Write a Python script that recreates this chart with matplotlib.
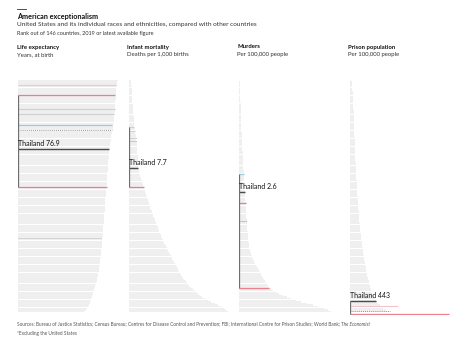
import matplotlib
matplotlib.use('Agg')
import matplotlib.pyplot as plt

plt.rcParams['font.family'] = ['Lato', 'DejaVu Sans']

# countries ranked, 146 each, best at the top
life_expectancy = [
    84.3, 83.9, 83.6, 83.4, 83.3, 83.2, 83.0, 82.9, 82.8, 82.7,
    82.6, 82.5, 82.4, 82.3, 82.2, 82.1, 82.0, 81.9, 81.8, 81.7,
    81.6, 81.5, 81.3, 81.2, 81.1, 81.0, 80.9, 80.7, 80.5, 80.3,
    80.1, 79.9, 79.6, 79.3, 79.0, 78.8, 78.6, 78.4, 78.2, 78.0,
    77.8, 77.6, 77.4, 77.2, 77.0, 76.9, 76.8, 76.7, 76.6, 76.5,
    76.4, 76.3, 76.2, 76.1, 76.0, 75.9, 75.8, 75.7, 75.6, 75.5,
    75.4, 75.3, 75.2, 75.1, 75.0, 74.9, 74.8, 74.7, 74.5, 74.4,
    74.3, 74.2, 74.1, 74.0, 73.9, 73.8, 73.7, 73.6, 73.5, 73.4,
    73.3, 73.2, 73.1, 73.0, 72.9, 72.8, 72.7, 72.6, 72.5, 72.4,
    72.3, 72.2, 72.1, 72.0, 71.9, 71.8, 71.7, 71.6, 71.5, 71.4,
    71.3, 71.2, 71.0, 70.9, 70.8, 70.7, 70.5, 70.4, 70.2, 70.1,
    70.0, 69.8, 69.7, 69.5, 69.4, 69.2, 69.0, 68.8, 68.6, 68.4,
    68.2, 67.9, 67.6, 67.3, 67.0, 66.7, 66.4, 66.0, 65.6, 65.2,
    64.8, 64.4, 64.0, 63.6, 63.2, 62.8, 62.4, 62.0, 61.6, 61.2,
    60.8, 60.2, 59.5, 58.6, 57.5, 55.5,
]
infant_mortality = [
    1.7, 1.8, 1.9, 2.0, 2.1, 2.1, 2.2, 2.3, 2.3, 2.4,
    2.5, 2.6, 2.7, 2.8, 2.9, 3.0, 3.1, 3.2, 3.3, 3.4,
    3.5, 3.6, 3.7, 3.8, 3.9, 4.0, 4.1, 4.2, 4.3, 4.4,
    4.6, 4.8, 5.0, 5.2, 5.4, 5.6, 5.8, 6.0, 6.1, 6.3,
    6.4, 6.5, 6.6, 6.7, 6.8, 6.9, 7.0, 7.1, 7.2, 7.3,
    7.4, 7.5, 7.6, 7.6, 7.7, 7.8, 8.0, 8.3, 8.6, 9.0,
    9.4, 9.8, 10.2, 10.6, 11.0, 11.4, 11.8, 12.2, 12.6, 13.0,
    13.6, 13.9, 14.2, 14.6, 15.0, 15.4, 15.8, 16.2, 16.7, 17.2,
    17.7, 18.2, 18.7, 19.2, 19.7, 20.2, 20.7, 21.2, 21.7, 22.2,
    22.7, 23.2, 23.7, 24.2, 24.7, 25.2, 25.7, 26.2, 26.8, 27.4,
    28.0, 28.6, 29.2, 29.8, 30.5, 31.2, 31.9, 32.6, 33.3, 34.0,
    34.7, 35.4, 36.1, 36.8, 37.5, 38.2, 38.9, 39.6, 40.3, 41.0,
    41.8, 42.6, 43.4, 44.2, 45.0, 46.0, 47.0, 48.0, 49.0, 50.0,
    51.5, 53.0, 54.5, 56.0, 57.5, 59.0, 61.0, 63.0, 65.5, 68.0,
    71.0, 74.0, 76.5, 78.5, 80.5, 82.5,
]
murders = [
    0.2, 0.3, 0.3, 0.4, 0.4, 0.4, 0.5, 0.5, 0.5, 0.5,
    0.6, 0.6, 0.6, 0.6, 0.7, 0.7, 0.7, 0.7, 0.8, 0.8,
    0.8, 0.8, 0.9, 0.9, 0.9, 0.9, 1.0, 1.0, 1.0, 1.0,
    1.1, 1.1, 1.1, 1.2, 1.2, 1.2, 1.3, 1.3, 1.3, 1.4,
    1.4, 1.4, 1.5, 1.5, 1.5, 1.6, 1.6, 1.6, 1.7, 1.7,
    1.8, 1.8, 1.9, 1.9, 2.0, 2.0, 2.0, 2.1, 2.1, 2.2,
    2.2, 2.3, 2.3, 2.3, 2.4, 2.4, 2.5, 2.5, 2.5, 2.6,
    2.6, 2.7, 2.7, 2.8, 2.8, 2.9, 2.9, 3.0, 3.0, 3.1,
    3.1, 3.2, 3.2, 3.3, 3.3, 3.4, 3.4, 3.5, 3.5, 3.6,
    3.6, 3.7, 3.7, 3.8, 3.8, 3.9, 3.9, 4.0, 4.0, 4.1,
    4.2, 4.3, 4.4, 4.5, 4.6, 4.7, 4.9, 5.1, 5.3, 5.5,
    5.7, 6.0, 6.3, 6.6, 7.0, 7.4, 7.8, 8.2, 8.6, 9.0,
    9.4, 9.8, 10.2, 10.6, 11.0, 11.4, 11.8, 12.2, 12.7, 13.2,
    13.8, 14.6, 15.6, 16.8, 18.2, 19.8, 21.6, 23.6, 25.8, 28.2,
    30.8, 33.4, 36.0, 38.4, 40.5, 42.0,
]
prison_population = [
    25, 30, 33, 36, 38, 40, 42, 44, 46, 48,
    50, 51, 53, 54, 55, 56, 57, 58, 59, 60,
    61, 62, 63, 64, 65, 66, 67, 68, 69, 70,
    71, 72, 73, 74, 75, 76, 77, 78, 79, 80,
    81, 82, 83, 84, 85, 86, 87, 88, 89, 90,
    91, 93, 94, 96, 97, 99, 100, 102, 103, 105,
    106, 108, 109, 111, 112, 114, 115, 117, 118, 120,
    122, 124, 126, 128, 130, 132, 134, 136, 138, 140,
    142, 144, 146, 148, 150, 152, 154, 156, 158, 160,
    163, 166, 169, 172, 175, 178, 181, 184, 187, 190,
    194, 198, 202, 206, 210, 214, 218, 222, 226, 230,
    234, 238, 242, 246, 250, 255, 260, 265, 270, 275,
    280, 286, 292, 298, 304, 310, 316, 322, 328, 334,
    342, 350, 360, 370, 382, 395, 410, 425, 443, 460,
    480, 505, 535, 570, 620, 690,
]

# US groups slotted in at their rank: (rank position, value, style)
life_hl = [(3, 83.0, 'pink'), (9, 82.0, 'red'), (18, 81.7, 'grey'), (21, 81.4, 'grey'),
           (28, 79.6, 'blue'), (31, 79.3, 'dotted'), (67, 75.2, 'red')]
infant_hl = [(29.6, 4.4, 'grey'), (32, 4.9, 'grey'), (36.5, 5.7, 'dotted'),
             (38, 6.0, 'dotted'), (66.7, 12.5, 'red')]
murder_hl = [(59, 2.2, 'blue'), (77, 3.0, 'red'), (88, 3.6, 'dotted'), (130, 13.6, 'red')]
prison_hl = [(141.6, 820, 'pink'), (144.7, 680, 'dotted'), (146.5, 1690, 'red')]

thailand = {'life': (43, 76.9), 'infant': (55, 7.7), 'murder': (70, 2.6), 'prison': (138.4, 443)}

titles = ['Life expectancy', 'Infant mortality', 'Murders', 'Prison population']
units = ['Years, at birth', 'Deaths per 1,000 births', 'Per 100,000 people', 'Per 100,000 people']

styles = {
    'red': dict(color='#ec7f8c', lw=0.9, ls='-'),
    'pink': dict(color='#f5c4cb', lw=0.8, ls='-'),
    'blue': dict(color='#9ccbe0', lw=0.9, ls='-'),
    'grey': dict(color='#cfcfcf', lw=0.8, ls='-'),
    'dotted': dict(color='#777777', lw=0.6, ls=(0, (1, 1.5))),
}

W, H = 474, 348
fig = plt.figure(figsize=(W / 100, H / 100), dpi=100)

def px(x, y):
    return x / W, 1 - y / H

panels = [
    (18, 100, 84.5, life_expectancy, life_hl, 'life', (9, 67)),
    (129, 100, 83.0, infant_mortality, infant_hl, 'infant', (29.6, 66.7)),
    (239, 105, 47.7, murders, murder_hl, 'murder', (59, 130)),
    (350, 110, 1875, prison_population, prison_hl, 'prison', (138.4, 146.5)),
]
top, bottom = 79.5, 314.5

for i, (left, width, xmax, vals, hls, key, bracket) in enumerate(panels):
    ax = fig.add_axes([left / W, 1 - bottom / H, width / W, (bottom - top) / H])
    rows = list(range(len(vals)))
    ax.barh(rows, vals, height=0.88, color='#efefef', linewidth=0)
    if key == 'life':
        ax.barh([99], [life_expectancy[99]], height=0.7, color='#d4d4d4', linewidth=0)
    for r, v, s in hls:
        ax.plot([0, v], [r, r], solid_capstyle='butt', **styles[s])
    tr, tv = thailand[key]
    ax.plot([0, tv], [tr, tr], color='#4a4a4a', lw=1.0, solid_capstyle='butt')
    ax.text(0, tr - 1.0, f'Thailand {tv:g}', fontsize=5.0, color='#111111',
            ha='left', va='bottom')
    ax.plot([0, 0], bracket, color='#6e6e6e', lw=0.9, solid_capstyle='butt')
    ax.set_xlim(0, xmax)
    ax.set_ylim(146.9, -0.5)
    ax.axis('off')

    tx = [17, 127, 237, 348][i]
    fig.text(*px(tx, 47), titles[i], fontsize=4.3, fontweight='bold', color='#111111',
             va='center', ha='left')
    fig.text(*px(tx, 54.5), units[i], fontsize=4.3, color='#333333', va='center', ha='left')

# header
fig.add_artist(plt.Line2D([17 / W, 26 / W], [1 - 8.5 / H] * 2, color='#333333', lw=0.6))
fig.text(*px(17, 16), 'American exceptionalism', fontsize=5.2, fontweight='bold',
         color='#111111', va='center', ha='left')
fig.text(*px(17, 24.5), 'United States and its individual races and ethnicities, compared with other countries',
         fontsize=4.65, color='#333333', va='center', ha='left')
fig.text(*px(17, 33), 'Rank out of 146 countries, 2019 or latest available figure',
         fontsize=4.0, color='#333333', va='center', ha='left')

# footer
src = fig.text(*px(17, 324), 'Sources: Bureau of Justice Statistics; Census Bureau; Centres for Disease '
               'Control and Prevention; FBI; International Centre for Prison Studies; World Bank; ',
               fontsize=3.45, color='#555555', va='center', ha='left')
fig.canvas.draw()
bb = src.get_window_extent()
fig.text(bb.x1 / W, 1 - 324 / H, 'The Economist', fontsize=3.45, style='italic',
         color='#555555', va='center', ha='left')
fig.text(*px(17, 333), '*Excluding the United States', fontsize=3.45, color='#555555',
         va='center', ha='left')

fig.savefig('out.png', dpi=100, facecolor='white')
